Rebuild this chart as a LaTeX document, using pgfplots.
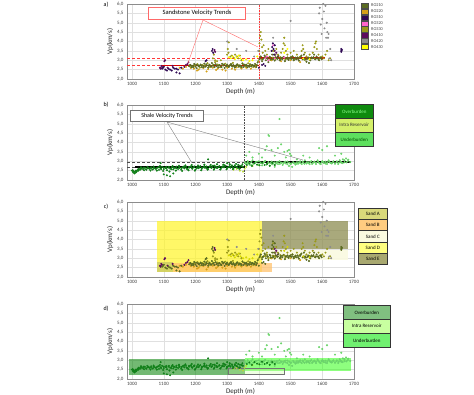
\documentclass[border=0pt]{standalone}
\usepackage{pgfplots}
\usepackage{pgfplotstable}
\pgfplotsset{compat=1.18}
\usepackage{fontspec}
\setmainfont{Carlito}
\definecolor{roA}{HTML}{5A6B22}
\definecolor{roB}{HTML}{D4A017}
\definecolor{roC}{HTML}{2E0854}
\definecolor{roD}{HTML}{FF66CC}
\definecolor{roE}{HTML}{9A9A1A}
\definecolor{roF}{HTML}{5C0A5C}
\definecolor{roG}{HTML}{8C8C8C}
\definecolor{roH}{HTML}{FFFF00}
\definecolor{ovb}{HTML}{12801A}
\definecolor{intra}{HTML}{B8D83A}
\definecolor{udb}{HTML}{6BD46B}
\definecolor{legOvb}{HTML}{0E8A0E}
\definecolor{legIntra}{HTML}{D4F06A}
\definecolor{legUdb}{HTML}{5EE05E}
\definecolor{sandA}{HTML}{D9D97A}
\definecolor{sandB}{HTML}{FFCC80}
\definecolor{sandC}{HTML}{FAFAE0}
\definecolor{sandD}{HTML}{FFFF80}
\definecolor{sandE}{HTML}{A8A870}
\definecolor{sandEfill}{HTML}{8C8C50}
\definecolor{dOvb}{HTML}{80C080}
\definecolor{dIntra}{HTML}{C8FFA0}
\definecolor{dUdb}{HTML}{70F070}

% ---------- sandstone data ----------
\pgfplotstableread{
x y
1180 2.68
1184 2.75
1188 2.62
1192 2.71
1196 2.80
1200 2.66
1204 2.58
1208 2.73
1212 2.69
1216 2.77
1220 2.63
1224 2.70
1228 2.82
1232 2.66
1236 2.72
1240 2.60
1244 2.76
1248 2.68
1252 2.85
1256 2.71
1260 2.64
1264 2.79
1268 2.70
1272 2.62
1276 2.74
1280 2.68
1284 2.81
1288 2.72
1292 2.59
1296 2.70
1300 2.77
1304 2.65
1308 2.72
1312 2.80
1316 2.67
1320 2.74
1324 2.61
1328 2.70
1332 2.78
1336 2.66
1340 2.73
1344 2.69
1348 2.83
1352 2.64
1356 2.71
1360 2.76
1364 2.62
1368 2.70
1372 2.79
1376 2.67
1380 2.74
1384 2.71
1388 2.80
1392 2.65
1396 2.88
1402 3.05
1406 3.20
1410 2.95
1414 3.10
1418 3.25
1422 3.00
1426 3.12
1430 2.90
1434 3.18
1438 3.05
1442 3.30
1446 3.10
1450 2.98
1454 3.15
1458 3.08
1462 3.22
1466 3.00
1470 3.12
1474 3.05
1478 3.18
1482 2.95
1486 3.10
1490 3.15
1494 3.02
1498 3.12
1502 3.08
1506 3.20
1510 3.00
1514 3.10
1518 3.05
1522 3.15
1526 2.98
1530 3.12
1534 3.25
1538 3.05
1542 3.30
1546 3.10
1550 2.92
1554 3.08
1558 2.85
1562 3.00
1566 3.15
1570 3.10
1574 3.30
1578 3.05
1582 3.20
1586 3.10
1590 3.00
1594 3.15
1598 3.05
1186 2.70
1194 2.64
1202 2.76
1210 2.68
1218 2.72
1226 2.64
1234 2.78
1242 2.70
1250 2.66
1258 2.76
1266 2.68
1274 2.72
1282 2.64
1290 2.78
1298 2.70
1306 2.66
1314 2.74
1322 2.68
1330 2.76
1338 2.70
1346 2.64
1354 2.76
1362 2.70
1370 2.66
1378 2.74
1386 2.68
1394 2.74
1404 3.12
1412 3.06
1420 3.18
1428 3.08
1436 3.14
1444 3.04
1452 3.16
1460 3.10
1468 3.06
1476 3.14
1484 3.10
1492 3.06
1500 3.16
1508 3.08
1516 3.14
1524 3.06
1532 3.18
1540 3.10
1548 3.04
1556 3.14
1564 3.08
1572 3.16
1580 3.10
1588 3.06
1596 3.12
}\roa
\pgfplotstableread{
x y
1182 2.74
1190 2.66
1198 2.72
1206 2.79
1214 2.60
1222 2.75
1230 2.70
1238 2.84
1246 2.64
1254 2.73
1262 2.90
1270 2.77
1278 2.63
1286 2.75
1294 2.82
1302 2.69
1310 2.75
1318 2.86
1326 2.66
1334 2.74
1342 2.62
1350 2.78
1358 2.70
1366 2.84
1374 2.72
1382 2.64
1390 2.76
1398 2.95
1300 3.30
1302 3.60
1305 3.95
1304 3.40
1310 3.20
1315 3.25
1320 3.15
1325 3.30
1330 3.20
1335 3.10
1340 3.25
1345 3.00
1255 3.10
1258 3.30
1262 3.00
1268 2.95
1280 3.00
1400 3.50
1402 3.90
1404 4.30
1406 4.50
1408 4.10
1410 3.70
1412 3.40
1415 3.80
1420 3.50
1425 3.30
1430 3.60
1445 3.50
1450 3.30
1455 3.60
1460 3.30
1470 3.40
1475 3.60
1478 3.90
1480 4.20
1482 3.80
1485 3.50
1490 3.30
1500 3.40
1505 3.20
1510 3.50
1520 3.30
1535 3.50
1538 3.80
1540 3.60
1545 3.40
1550 3.20
1560 3.30
1570 3.40
1575 3.70
1578 3.90
1580 4.00
1583 3.60
1588 3.30
1410 3.05
1420 3.12
1436 3.02
1444 3.14
1452 3.06
1468 3.16
1484 3.04
1496 3.12
1512 3.06
1528 3.16
1544 3.02
1560 3.12
1576 3.08
1592 3.14
1600 3.20
1605 3.10
1610 3.30
1615 3.50
1620 3.00
1625 3.10
}\roe
\pgfplotstableread{
x y
1150 2.60
1160 2.55
1170 2.65
1185 2.60
1195 2.55
1210 2.50
1225 2.58
1240 2.52
1255 2.60
1270 2.55
1285 2.50
1300 2.60
1315 2.55
1330 2.62
1345 2.56
1360 2.60
1375 2.55
1390 2.62
1205 2.45
1235 2.40
1265 2.48
1295 2.45
1325 2.50
1440 3.00
1470 2.95
1500 3.00
1530 2.90
}\rob
\pgfplotstableread{
x y
1095 2.55
1098 2.60
1100 2.65
1105 2.50
1110 2.45
1115 2.55
1120 2.50
1125 2.45
1130 2.60
1135 2.55
1140 2.35
1145 2.50
1150 2.30
1155 2.60
1140 2.55
1232 2.95
1235 3.00
1252 3.50
1254 3.60
1256 3.40
1400 2.60
1410 2.75
1415 2.80
1420 2.70
1440 3.50
1442 3.70
1444 3.90
1446 3.60
1448 3.30
1450 3.80
1660 3.50
1660 3.60
1660 3.45
1662 3.55
}\roc
\pgfplotstableread{
x y
1420 3.10
1425 3.20
1450 3.10
1480 3.15
1445 3.80
1430 3.00
}\rod
\pgfplotstableread{
x y
1088 2.60
1090 2.55
1092 2.70
1094 2.65
1102 2.95
1104 3.00
1112 2.60
1128 2.70
1165 2.65
1170 2.75
1175 2.80
1178 2.90
1260 3.55
1262 3.45
1450 3.50
1452 3.30
1455 3.40
1460 3.20
}\rof
\pgfplotstableread{
x y
1590 5.50
1592 5.80
1595 4.90
1598 4.40
1600 5.20
1603 6.00
1605 5.60
1607 4.70
1610 5.90
1612 4.20
1614 5.00
1616 4.50
1618 4.20
1620 4.40
1625 3.60
1622 3.10
1628 3.00
1500 5.10
1445 4.20
1300 4.00
1330 3.60
1360 3.50
1385 3.20
1398 3.50
}\rog
\pgfplotstableread{
x y
1305 3.15
1312 3.10
1318 3.20
1324 3.05
1330 3.15
1336 3.25
1342 3.10
1350 3.00
1360 3.05
1370 2.95
1380 3.00
1395 3.20
1480 3.40
1490 3.60
1540 3.10
1560 3.05
}\roh

% ---------- shale data ----------
\pgfplotstableread{
x y
1000 2.50
1003 2.42
1006 2.38
1009 2.45
1012 2.40
1015 2.48
1018 2.55
1021 2.60
1025 2.55
1030 2.62
1035 2.58
1040 2.65
1045 2.55
1050 2.62
1055 2.60
1060 2.68
1065 2.56
1070 2.63
1075 2.59
1080 2.66
1085 2.54
1090 2.62
1095 2.70
1100 2.58
1105 2.64
1110 2.52
1115 2.66
1120 2.60
1125 2.68
1130 2.57
1135 2.64
1140 2.71
1145 2.59
1150 2.65
1155 2.55
1160 2.68
1165 2.62
1170 2.70
1175 2.58
1180 2.66
1185 2.72
1190 2.60
1195 2.67
1200 2.55
1205 2.69
1210 2.63
1215 2.74
1220 2.60
1225 2.68
1230 2.65
1235 2.72
1240 2.58
1245 2.70
1250 2.64
1255 2.76
1260 2.62
1265 2.70
1270 2.66
1275 2.74
1280 2.60
1285 2.72
1290 2.68
1295 2.76
1300 2.63
1305 2.70
1310 2.66
1315 2.78
1320 2.64
1325 2.72
1330 2.69
1335 2.80
1340 2.62
1345 2.74
1350 2.70
1002 2.52
1008 2.35
1014 2.44
1020 2.50
1028 2.68
1038 2.52
1048 2.70
1058 2.50
1068 2.72
1078 2.50
1088 2.75
1098 2.48
1108 2.70
1118 2.45
1128 2.74
1138 2.50
1148 2.76
1158 2.48
1168 2.78
1178 2.52
1188 2.80
1198 2.50
1208 2.78
1218 2.52
1228 2.82
1238 2.55
1248 2.80
1258 2.55
1268 2.84
1278 2.56
1288 2.82
1298 2.57
1308 2.84
1318 2.58
1328 2.86
1338 2.60
1348 2.84
1100 2.30
1110 2.25
1130 2.35
1240 3.10
1300 2.90
1090 2.90
1120 2.20
1362 2.80
1370 2.88
1378 2.75
1386 2.90
1394 2.82
1402 2.78
1410 2.92
1418 2.80
1426 2.86
1434 2.76
1442 2.90
1450 2.80
1004 2.46
1012 2.50
1020 2.56
1028 2.60
1036 2.66
1044 2.58
1052 2.64
1060 2.60
1068 2.66
1076 2.62
1084 2.68
1092 2.58
1100 2.66
1108 2.62
1116 2.70
1124 2.58
1132 2.66
1140 2.62
1148 2.70
1156 2.64
1164 2.72
1172 2.60
1180 2.70
1188 2.64
1196 2.72
1204 2.62
1212 2.70
1220 2.66
1228 2.74
1236 2.62
1244 2.72
1252 2.68
1260 2.76
1268 2.64
1276 2.72
1284 2.68
1292 2.78
1300 2.66
1308 2.74
1316 2.70
1324 2.78
1332 2.66
1340 2.76
1348 2.72
}\ovbdata
\pgfplotstableread{
x y
1320 2.55
1330 2.60
1340 2.50
1350 2.45
1355 2.60
1360 2.70
1380 2.75
1400 2.80
}\intradata
\pgfplotstableread{
x y
1356 2.95
1360 2.85
1365 3.00
1370 2.90
1375 2.80
1380 3.05
1385 2.88
1390 2.95
1395 2.82
1400 3.00
1405 2.90
1410 2.78
1415 2.95
1420 3.02
1425 2.85
1430 2.92
1435 2.75
1440 2.98
1445 2.88
1450 2.70
1455 2.95
1460 2.85
1465 3.00
1470 2.92
1475 2.80
1480 2.95
1485 2.88
1490 2.98
1495 2.75
1500 2.85
1505 2.70
1510 2.90
1515 2.82
1520 2.95
1525 2.88
1530 3.00
1535 2.85
1540 2.92
1545 3.05
1550 2.88
1555 2.95
1560 2.85
1565 3.00
1570 2.90
1575 2.98
1580 2.85
1585 3.05
1590 2.92
1595 2.85
1600 3.00
1605 2.90
1610 2.98
1615 2.85
1620 3.05
1625 2.92
1630 2.88
1635 3.00
1640 2.90
1645 2.95
1650 2.85
1655 3.05
1660 2.92
1665 3.10
1670 2.95
1675 3.15
1680 3.00
1360 3.30
1370 3.50
1380 3.20
1400 3.40
1410 3.20
1420 3.60
1425 3.80
1430 4.40
1432 4.35
1440 3.60
1450 3.30
1460 3.70
1465 5.25
1470 3.90
1480 3.50
1485 3.20
1490 3.55
1495 3.60
1498 3.40
1502 3.30
1520 3.10
1540 3.30
1560 3.20
1590 3.70
1600 3.60
1615 3.80
1640 3.30
1660 3.40
1358 2.88
1364 2.92
1370 2.82
1376 2.96
1382 2.86
1388 2.92
1394 2.98
1400 2.84
1406 2.94
1412 2.88
1418 2.98
1424 2.82
1430 2.96
1436 2.90
1442 2.84
1448 2.94
1454 2.88
1460 2.96
1466 2.86
1472 2.92
1478 2.88
1484 2.98
1490 2.84
1496 2.92
1502 2.88
1508 2.96
1514 2.90
1520 2.86
1526 2.94
1532 2.90
1538 2.98
1544 2.86
1550 2.94
1556 2.90
1562 2.96
1568 2.86
1574 2.94
1580 2.92
1586 2.98
1592 2.88
1598 2.94
1604 2.96
1610 2.88
1616 2.94
1622 2.98
1628 2.90
1634 2.96
1640 2.86
1646 3.00
1652 2.92
1658 2.98
1664 2.90
1670 3.05
1676 2.94
1682 3.08
1688 2.96
}\udbdata

\pgfplotsset{
  panel/.style={
    at={(127pt,#1pt)}, anchor=south west, scale only axis,
    width=227pt, height=75pt,
    xmin=984, xmax=1700, ymin=2, ymax=6,
    xtick={1000,1100,...,1700}, ytick={2,2.5,...,6},
    grid=major, grid style={black!12, line width=0.3pt},
    axis line style={black!45, line width=0.4pt},
    tick style={draw=none},
    tick label style={font=\fontsize{5}{6}\selectfont, text=black!75},
    /pgf/number format/assume math mode=true,
    /pgf/number format/use comma,
    /pgf/number format/1000 sep={},
    yticklabel style={/pgf/number format/fixed, /pgf/number format/fixed zerofill, /pgf/number format/precision=1},
    xlabel={Depth (m)}, ylabel={Vp(km/s)},
    label style={font=\fontsize{7}{8}\selectfont, text=black!85},
    xlabel style={yshift=4pt}, ylabel style={yshift=-3pt},
    clip=true,
  },
  pts/.style={only marks, mark=*, mark size=0.8pt, color=#1},
}
\tikzset{legrow/.style={draw=black!80, line width=0.6pt, inner sep=0pt, anchor=north west, font=\fontsize{5}{6}\selectfont}}

\begin{document}
\begin{tikzpicture}[x=1pt,y=1pt]
\path[use as bounding box] (0,0) rectangle (474,395);

% ================= panel a =================
\begin{axis}[panel=316]
\addplot[pts=roF] table {\rof};
\addplot[pts=roB] table {\rob};
\addplot[pts=roE] table {\roe};
\addplot[pts=roA] table {\roa};
\addplot[pts=roH] table {\roh};
\addplot[pts=roG] table {\rog};
\addplot[pts=roD] table {\rod};
\addplot[pts=roC] table {\roc};
\addplot[red!70!pink, densely dashed, line width=0.5pt] coordinates {(984,3.12) (1400,3.12)};
\addplot[red!70!pink, densely dashed, line width=0.5pt] coordinates {(984,2.72) (1090,2.72)};
\addplot[red!70!pink, densely dotted, line width=0.6pt] coordinates {(1400,2) (1400,6)};
\addplot[red!85!black, line width=1.6pt] coordinates {(1090,2.72) (1400,2.72)};
\addplot[red!85!black, line width=1.6pt] coordinates {(1400,3.12) (1610,3.12)};
\end{axis}
\node[font=\fontsize{6}{7}\selectfont] at (106,390) {a)};
\draw[red!45!pink, line width=0.4pt] (203,375) -- (188,332);
\draw[red!45!pink, line width=0.4pt] (203,375) -- (258,348);
\node[draw=red!45!pink, fill=white, line width=0.6pt, minimum width=97pt, minimum height=12pt, inner sep=1pt, font=\fontsize{6.5}{7}\selectfont] at (197,382) {Sandstone Velocity Trends};
\foreach \c/\t [count=\i from 0] in {roA/RO210,roB/RO220,roC/RO310,roD/RO320,roE/RO330,roF/RO410,roG/RO420,roH/RO430}{
  \fill[\c, draw=black!70, line width=0.3pt] (361,{392-\i*5.9-5.2}) rectangle (368,{392-\i*5.9});
  \node[anchor=west, inner sep=0pt, font=\fontsize{4.3}{5}\selectfont, text=black!75] at (371,{392-\i*5.9-2.6}) {\t};
}

% ================= panel b =================
\begin{axis}[panel=215]
\addplot[pts=intra] table {\intradata};
\addplot[pts=udb] table {\udbdata};
\addplot[pts=ovb] table {\ovbdata};
\addplot[black!70, densely dashed, line width=0.5pt] coordinates {(984,2.95) (1355,2.95)};
\addplot[black!70, densely dashed, line width=0.5pt] coordinates {(984,2.68) (1010,2.68)};
\addplot[black!70, densely dotted, line width=0.6pt] coordinates {(1355,2) (1355,6)};
\addplot[black, line width=1.6pt] coordinates {(1010,2.68) (1355,2.68)};
\addplot[black, line width=1.6pt] coordinates {(1355,2.95) (1690,2.95)};
\end{axis}
\node[font=\fontsize{6}{7}\selectfont] at (106,290) {b)};
\draw[black!50, line width=0.4pt] (167,273) -- (192,232);
\draw[black!50, line width=0.4pt] (167,273) -- (303,235);
\node[draw=black!55, fill=white, line width=0.6pt, minimum width=73pt, minimum height=11pt, inner sep=1pt, font=\fontsize{6}{7}\selectfont] at (167,279.5) {Shale Velocity Trends};
\node[legrow, fill=legOvb, minimum width=38pt, minimum height=14pt, text=green!45!white] at (335,291) {Overburden};
\node[legrow, fill=legIntra, minimum width=38pt, minimum height=14pt, text=black!80] at (335,277) {Intra Reservoir};
\node[legrow, fill=legUdb, minimum width=38pt, minimum height=14pt, text=green!30!black] at (335,263) {Underburden};

% ================= panel c =================
\begin{axis}[panel=118]
\addplot[fill=yellow!85!white, fill opacity=0.7, draw=none] coordinates {(1080,2.28) (1410,2.28) (1410,5.0) (1080,5.0)} -- cycle;
\addplot[fill=sandEfill, fill opacity=0.75, draw=none] coordinates {(1410,3.5) (1680,3.5) (1680,5.0) (1410,5.0)} -- cycle;
\addplot[fill=sandC, fill opacity=0.9, draw=none] coordinates {(1410,2.9) (1680,2.9) (1680,3.45) (1410,3.45)} -- cycle;
\addplot[fill=sandB!85!orange, fill opacity=0.75, draw=none] coordinates {(1130,2.27) (1440,2.27) (1440,2.75) (1130,2.75)} -- cycle;
\addplot[fill=sandA!80!olive, fill opacity=0.75, draw=none] coordinates {(1080,2.27) (1130,2.27) (1130,2.8) (1080,2.8)} -- cycle;
\addplot[pts=roF] table {\rof};
\addplot[pts=roB] table {\rob};
\addplot[pts=roE] table {\roe};
\addplot[pts=roA] table {\roa};
\addplot[pts=roH!70!olive] table {\roh};
\addplot[pts=roG] table {\rog};
\addplot[pts=roE] table {\rod};
\addplot[pts=roA] table {\roc};
\end{axis}
\node[font=\fontsize{6}{7}\selectfont] at (106,188) {c)};
\node[legrow, fill=sandA, minimum width=29pt, minimum height=11.2pt] at (358,187) {Sand A};
\node[legrow, fill=sandB, minimum width=29pt, minimum height=11.2pt] at (358,175.8) {Sand B};
\node[legrow, fill=sandC, minimum width=29pt, minimum height=11.2pt] at (358,164.6) {Sand C};
\node[legrow, fill=sandD, minimum width=29pt, minimum height=11.2pt] at (358,153.4) {Sand D};
\node[legrow, fill=sandE, minimum width=29pt, minimum height=11.2pt] at (358,142.2) {Sand E};

% ================= panel d =================
\begin{axis}[panel=16]
\addplot[fill=green!50!black, fill opacity=0.55, draw=none] coordinates {(990,2.2) (1355,2.2) (1355,3.04) (990,3.04)} -- cycle;
\addplot[fill=green!85!lime, fill opacity=0.5, draw=none] coordinates {(1355,2.4) (1692,2.4) (1692,3.13) (1355,3.13)} -- cycle;
\addplot[fill=dIntra, fill opacity=0.3, draw=black!55, line width=0.4pt] coordinates {(1302,2.28) (1479,2.28) (1479,2.55) (1302,2.55)} -- cycle;
\addplot[pts=intra] table {\intradata};
\addplot[pts=udb] table {\udbdata};
\addplot[pts=ovb] table {\ovbdata};
\end{axis}
\node[font=\fontsize{6}{7}\selectfont] at (106,86) {d)};
\node[legrow, fill=dOvb, minimum width=47pt, minimum height=14pt] at (343,90) {Overburden};
\node[legrow, fill=dIntra, minimum width=47pt, minimum height=14pt] at (343,76) {Intra Reservoir};
\node[legrow, fill=dUdb, minimum width=47pt, minimum height=14pt] at (343,62) {Underburden};
\end{tikzpicture}
\end{document}
